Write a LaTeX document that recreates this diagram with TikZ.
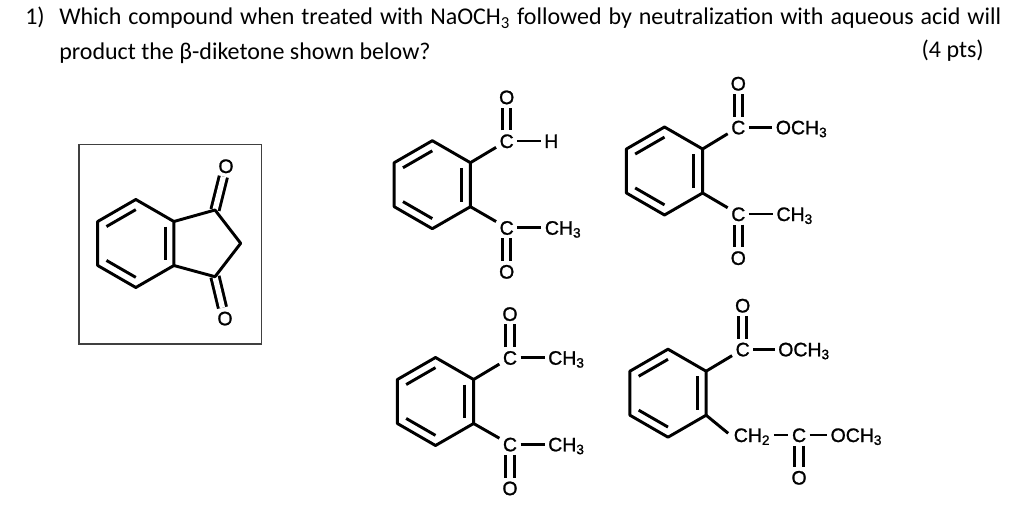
\documentclass[tikz,border=0pt]{standalone}
\usepackage{fontspec}
\setmainfont{Carlito}
\newfontfamily\atomfont[FakeBold=1.2]{Liberation Sans}
\usetikzlibrary{positioning,calc}
\tikzstyle{atom} = [inner sep=2.5pt, font=\atomfont\fontsize{14.6}{15}\selectfont, text height=10.5pt, text depth=0pt]
\tikzstyle{bond} = [line width=2.2pt, line join=round]
\tikzstyle{dbl} = [line width=2.2pt, double, double distance=4pt]
\tikzstyle{txt} = [inner sep=0pt, font=\fontsize{18}{26}\selectfont]
\tikzstyle{frame} = [draw=black!75, line width=1pt]
\newcommand{\benzene}[3]{
    \coordinate (#1-c) at (#2, #3);
    \foreach \i/\ang in {1/90, 2/30, 3/-30, 4/-90, 5/-150, 6/150} {
        \coordinate (#1-\i) at ($(#1-c)+(\ang:33pt)$);
    }
    \draw[bond] (#1-1) -- (#1-2) -- (#1-3) -- (#1-4) -- (#1-5) -- (#1-6) -- cycle;
    \foreach \i/\j in {1/6, 2/3, 4/5} {
        \draw[bond] ($(#1-c)!0.77!(#1-\i)$) -- ($(#1-c)!0.77!(#1-\j)$);
    }
}
\begin{document}
\begin{tikzpicture}[x=0.75pt, y=-0.75pt]
    \useasboundingbox (0,0) rectangle (1024,531);

    % question
    \node[txt, anchor=base west] (num) at (25,25) {1)};
    \node[txt, anchor=north west, text width=706.5pt, align=justify] (question) at (59,8) {Which compound when treated with NaOCH\textsubscript{3} followed by neutralization with aqueous acid will\linebreak product the β-diketone shown below?};
    \node[txt, anchor=base east] (pts) at (984,58) {(4 pts)};

    % boxed diketone
    \node[frame, minimum width=136.9pt, minimum height=149.5pt, anchor=north west] (box) at (78.3,144) {};
    \coordinate (k1) at (215,210);
    \coordinate (k2) at (215,276.7);
    \coordinate (kch) at (240.7,243.3);
    \node[atom] (ko1) at (226,166) {O};
    \node[atom] (ko2) at (225,318.3) {O};
    \draw[dbl] (k1) -- (ko1);
    \draw[dbl] (k2) -- (ko2);
    \benzene{a}{135.8}{243.5}
    \draw[bond] (a-2) -- (k1) -- (kch) -- (k2) -- (a-3);

    % aldehyde ketone
    \benzene{b}{432.3}{184.7}
    \node[atom] (bc1) at (506.7,141) {C};
    \node[atom, above=17pt of bc1] (bo1) {O};
    \node[atom, right=17.5pt of bc1] (bh) {H};
    \node[atom] (bc2) at (506.7,227.7) {C};
    \node[atom, below=17pt of bc2] (bo2) {O};
    \node[atom, right=18pt of bc2] (bme) {CH\textsubscript{3}};
    \draw[bond] (b-2) -- (bc1);
    \draw[bond] (b-3) -- (bc2);
    \draw[bond] (bc1) -- (bh);
    \draw[bond] (bc2) -- (bme);
    \draw[dbl] (bc1) -- (bo1);
    \draw[dbl] (bc2) -- (bo2);

    % ester ketone
    \benzene{c}{664.5}{171}
    \node[atom] (cc1) at (738.3,127.3) {C};
    \node[atom, above=17pt of cc1] (co1) {O};
    \node[atom, right=17.5pt of cc1] (come) {OCH\textsubscript{3}};
    \node[atom] (cc2) at (738.3,214) {C};
    \node[atom, below=17pt of cc2] (co2) {O};
    \node[atom, right=18pt of cc2] (cme) {CH\textsubscript{3}};
    \draw[bond] (c-2) -- (cc1);
    \draw[bond] (c-3) -- (cc2);
    \draw[bond] (cc1) -- (come);
    \draw[bond] (cc2) -- (cme);
    \draw[dbl] (cc1) -- (co1);
    \draw[dbl] (cc2) -- (co2);

    % diketone
    \benzene{d}{435.5}{401.5}
    \node[atom] (dc1) at (510,357.7) {C};
    \node[atom, above=17pt of dc1] (do1) {O};
    \node[atom, right=18pt of dc1] (dme1) {CH\textsubscript{3}};
    \node[atom] (dc2) at (510,444.3) {C};
    \node[atom, below=17pt of dc2] (do2) {O};
    \node[atom, right=18pt of dc2] (dme2) {CH\textsubscript{3}};
    \draw[bond] (d-2) -- (dc1);
    \draw[bond] (d-3) -- (dc2);
    \draw[bond] (dc1) -- (dme1);
    \draw[bond] (dc2) -- (dme2);
    \draw[dbl] (dc1) -- (do1);
    \draw[dbl] (dc2) -- (do2);

    % diester
    \benzene{e}{668}{393.2}
    \node[atom] (ec1) at (742.7,349.3) {C};
    \node[atom, above=17pt of ec1] (eo1) {O};
    \node[atom, right=16pt of ec1] (eome1) {OCH\textsubscript{3}};
    \node[atom] (ech) at (752,435) {CH\textsubscript{2}};
    \node[atom, right=11pt of ech] (ec2) {C};
    \node[atom, below=16pt of ec2] (eo2) {O};
    \node[atom, right=13pt of ec2] (eome2) {OCH\textsubscript{3}};
    \draw[bond] (e-2) -- (ec1);
    \draw[bond, shorten >=2pt] (e-3) -- (ech.west);
    \draw[bond] (ec1) -- (eome1);
    \draw[bond] (ech) -- (ec2);
    \draw[bond] (ec2) -- (eome2);
    \draw[dbl] (ec1) -- (eo1);
    \draw[dbl] (ec2) -- (eo2);
\end{tikzpicture}
\end{document}
